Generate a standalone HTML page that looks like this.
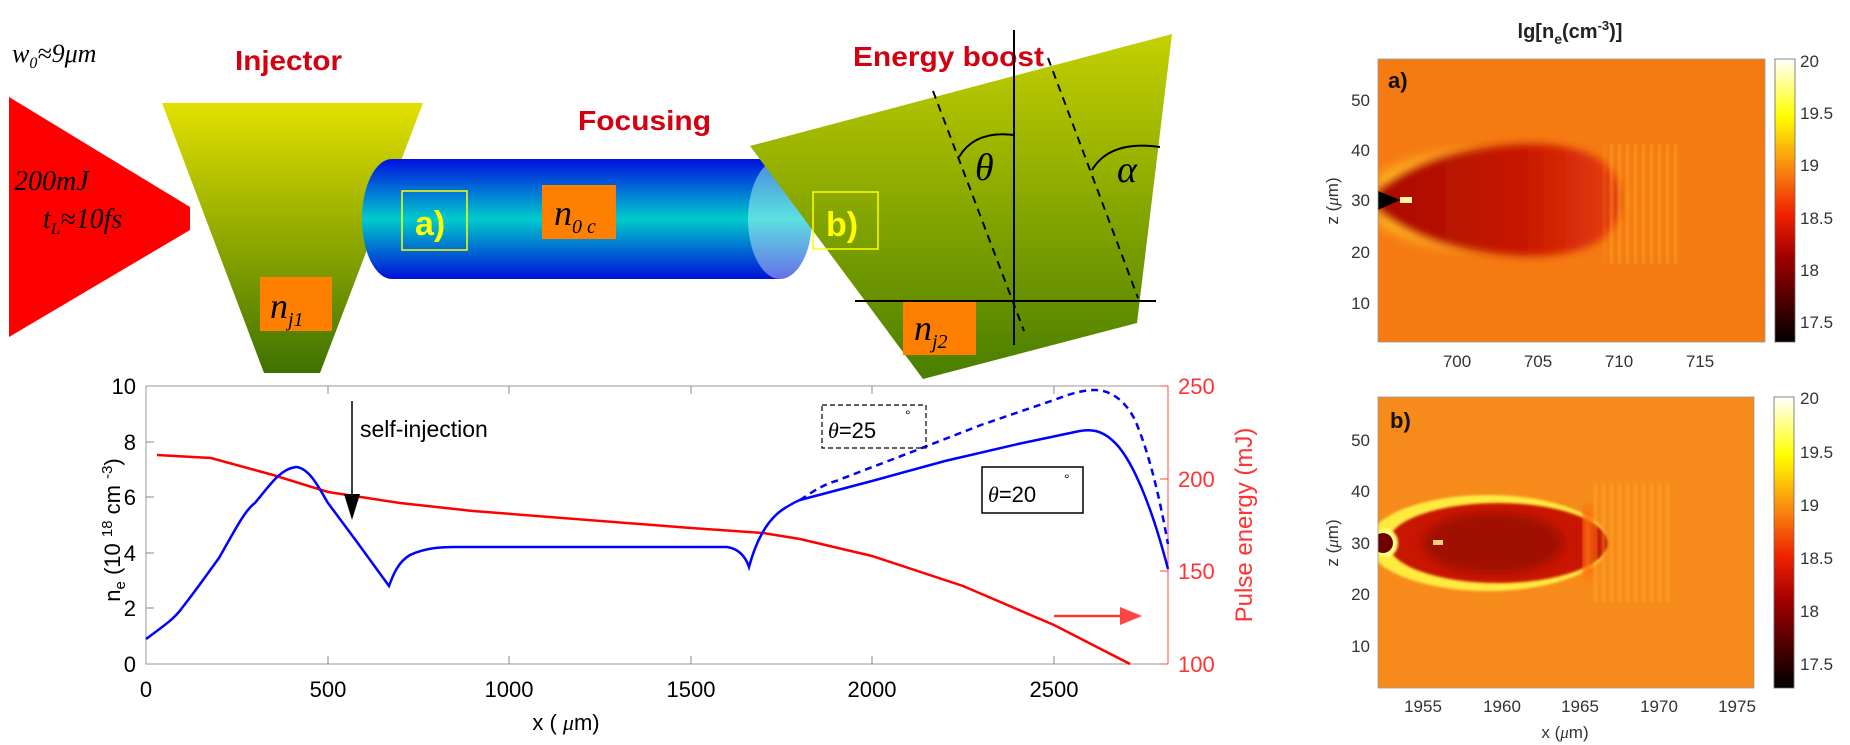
<!DOCTYPE html>
<html><head><meta charset="utf-8"><style>
html,body{margin:0;padding:0;background:#fff;}
svg{display:block;}
</style></head><body>
<svg width="1850" height="745" viewBox="0 0 1850 745" xmlns="http://www.w3.org/2000/svg" font-family="Liberation Sans, sans-serif">
<defs>
<linearGradient id="gInj" x1="0" y1="0" x2="0" y2="1"><stop offset="0" stop-color="#e2e000"/><stop offset="1" stop-color="#3e7200"/></linearGradient>
<linearGradient id="gBoost" x1="0" y1="0" x2="0" y2="1"><stop offset="0" stop-color="#c4d000"/><stop offset="1" stop-color="#4a7e00"/></linearGradient>
<linearGradient id="gCyl" x1="0" y1="0" x2="0" y2="1"><stop offset="0" stop-color="#0010e0"/><stop offset="0.5" stop-color="#00cccc"/><stop offset="1" stop-color="#0010d8"/></linearGradient>
<linearGradient id="gCap" x1="0" y1="0" x2="0" y2="1"><stop offset="0" stop-color="#4a88e0"/><stop offset="0.5" stop-color="#5ce0e0"/><stop offset="1" stop-color="#6670e8"/></linearGradient>
<linearGradient id="gCb" x1="0" y1="1" x2="0" y2="0"><stop offset="0" stop-color="#000"/><stop offset="0.3" stop-color="#a00000"/><stop offset="0.45" stop-color="#f02000"/><stop offset="0.6" stop-color="#f88010"/><stop offset="0.8" stop-color="#ffff00"/><stop offset="1" stop-color="#fff"/></linearGradient>
<linearGradient id="gBubA" x1="0" y1="0" x2="1" y2="0"><stop offset="0" stop-color="#a80c00"/><stop offset="0.6" stop-color="#c81800"/><stop offset="1" stop-color="#e84010"/></linearGradient>
<filter id="bl"><feGaussianBlur stdDeviation="4"/></filter>
<filter id="bl6"><feGaussianBlur stdDeviation="7"/></filter>
<filter id="bl2"><feGaussianBlur stdDeviation="1.2"/></filter>
<pattern id="str" width="8" height="200" patternUnits="userSpaceOnUse"><rect x="0" y="0" width="3" height="200" fill="#ffb030" opacity="0.7"/></pattern>
</defs>

<!-- top diagram -->
<text x="12" y="62" font-family="Liberation Serif, serif" font-style="italic" font-size="26">w<tspan font-size="16" dy="6">0</tspan><tspan dy="-6">≈9μm</tspan></text>
<polygon points="9,97 190,207 190,230 9,337" fill="#ff0000"/>
<text x="14" y="190" font-family="Liberation Serif, serif" font-style="italic" font-size="28">200mJ</text>
<text x="43" y="228" font-family="Liberation Serif, serif" font-style="italic" font-size="28">t<tspan font-size="17" dy="6">L</tspan><tspan dy="-6">≈10fs</tspan></text>

<polygon points="162,103 423,103 320,373 264,373" fill="url(#gInj)"/>
<text x="235" y="70" font-size="28" font-weight="bold" fill="#d40010" textLength="107" lengthAdjust="spacingAndGlyphs">Injector</text>
<rect x="260" y="277" width="72" height="54" fill="#ff8000"/>
<text x="270" y="318" font-family="Liberation Serif, serif" font-style="italic" font-size="36">n<tspan font-size="20" dy="8">j1</tspan></text>

<rect x="392" y="159" width="388" height="120" fill="url(#gCyl)"/>
<ellipse cx="392" cy="219" rx="30" ry="60" fill="url(#gCyl)"/>
<ellipse cx="780" cy="219" rx="32" ry="60" fill="url(#gCap)"/>
<rect x="402" y="191" width="65" height="59" fill="none" stroke="#ffff00" stroke-width="1.5"/>
<text x="415" y="235" font-size="34" font-weight="bold" fill="#ffff00">a)</text>
<rect x="542" y="185" width="74" height="54" fill="#ff8000"/>
<text x="554" y="225" font-family="Liberation Serif, serif" font-style="italic" font-size="36">n<tspan font-size="20" dy="8">0 c</tspan></text>
<text x="578" y="130" font-size="28" font-weight="bold" fill="#d40010" textLength="133" lengthAdjust="spacingAndGlyphs">Focusing</text>

<polygon points="750,146 1172,34 1137,323 923,379" fill="url(#gBoost)"/>
<text x="853" y="66" font-size="28" font-weight="bold" fill="#d40010" textLength="191" lengthAdjust="spacingAndGlyphs">Energy boost</text>
<rect x="813" y="192" width="65" height="57" fill="none" stroke="#ffff00" stroke-width="1.5"/>
<text x="826" y="236" font-size="34" font-weight="bold" fill="#ffff00">b)</text>
<rect x="903" y="302" width="73" height="53" fill="#ff8000"/>
<text x="914" y="340" font-family="Liberation Serif, serif" font-style="italic" font-size="36">n<tspan font-size="20" dy="8">j2</tspan></text>
<line x1="1014" y1="30" x2="1014" y2="345" stroke="#000" stroke-width="2"/>
<line x1="855" y1="301" x2="1156" y2="301" stroke="#000" stroke-width="2"/>
<line x1="933" y1="91" x2="1024" y2="331" stroke="#000" stroke-width="2" stroke-dasharray="8,6"/>
<line x1="1048" y1="58" x2="1138" y2="298" stroke="#000" stroke-width="2" stroke-dasharray="8,6"/>
<path d="M959,157 Q975,130 1014,135" fill="none" stroke="#000" stroke-width="2"/>
<path d="M1092,170 Q1110,140 1160,147" fill="none" stroke="#000" stroke-width="2"/>
<text x="975" y="180" font-family="Liberation Serif, serif" font-style="italic" font-size="38">θ</text>
<text x="1117" y="182" font-family="Liberation Serif, serif" font-style="italic" font-size="38">α</text>

<!-- bottom chart -->
<g stroke="#888" stroke-width="1" fill="none">
<rect x="146" y="386" width="1022" height="278" stroke="#999"/>
<path d="M328,664v-8M509,664v-8M691,664v-8M872,664v-8M1054,664v-8M328,386v8M509,386v8M691,386v8M872,386v8M1054,386v8"/>
<path d="M146,608h8M146,553h8M146,497h8M146,442h8"/>
</g>
<line x1="1168" y1="386" x2="1168" y2="664" stroke="#f44" stroke-width="1"/>
<path d="M1168,386h-8M1168,479h-8M1168,571h-8M1168,664h-8" stroke="#f44"/>
<g font-size="22" fill="#000" text-anchor="end">
<text x="136" y="394">10</text><text x="136" y="450">8</text><text x="136" y="505">6</text><text x="136" y="561">4</text><text x="136" y="616">2</text><text x="136" y="672">0</text>
</g>
<g font-size="22" fill="#000" text-anchor="middle">
<text x="146" y="697">0</text><text x="328" y="697">500</text><text x="509" y="697">1000</text><text x="691" y="697">1500</text><text x="872" y="697">2000</text><text x="1054" y="697">2500</text>
</g>
<text x="566" y="730" font-size="22" text-anchor="middle">x ( <tspan font-family="Liberation Serif, serif" font-style="italic">μ</tspan>m)</text>
<text transform="translate(120,530) rotate(-90)" font-size="22" text-anchor="middle">n<tspan font-size="15" dy="5">e</tspan><tspan dy="-5"> (10 </tspan><tspan font-size="15" dy="-8">18</tspan><tspan dy="8"> cm </tspan><tspan font-size="15" dy="-8">-3</tspan><tspan dy="8">)</tspan></text>
<g font-size="22" fill="#f33">
<text x="1178" y="394">250</text><text x="1178" y="487">200</text><text x="1178" y="579">150</text><text x="1178" y="672">100</text>
</g>
<text transform="translate(1252,525) rotate(-90)" font-size="24" fill="#f33" text-anchor="middle">Pulse energy (mJ)</text>

<path d="M157,455 L211,458 L273,475 L328,492 L400,503 L473,511 L691,528 L763,533 L800,539 L872,556 L963,586 L1054,625 L1130,664" fill="none" stroke="#f00" stroke-width="2.5"/>
<path d="M146,639 C165,625 175,618 182,608 C200,585 210,570 219,558 C235,530 245,510 255,503 C270,485 280,469 296,467 C310,468 320,490 328,503 L357,542 L389,586 C393,575 398,562 410,555 C425,548 440,547 455,547 L727,547 C740,549 746,558 749,567 C755,545 765,520 785,508 C795,502 797,501 800,500 L872,481 L945,461 L1018,444 L1075,432 C1092,428 1102,431 1112,440 C1130,455 1150,500 1168,569" fill="none" stroke="#0000ff" stroke-width="2.5"/>
<path d="M800,500 C815,490 825,484 836,481 L909,453 L981,425 L1054,400 C1075,392 1085,390 1095,390 C1110,390 1125,400 1135,420 C1150,455 1160,500 1168,544" fill="none" stroke="#0000ff" stroke-width="2.5" stroke-dasharray="7,5"/>

<line x1="352" y1="401" x2="352" y2="495" stroke="#000" stroke-width="1.5"/>
<polygon points="344,494 360,494 352,520" fill="#000"/>
<text x="360" y="437" font-size="23">self-injection</text>
<rect x="822" y="405" width="104" height="43" fill="none" stroke="#000" stroke-width="1.2" stroke-dasharray="5,3"/>
<text x="828" y="438" font-size="22"><tspan font-family="Liberation Serif, serif" font-style="italic">θ</tspan>=25</text>
<text x="905" y="420" font-size="14">°</text>
<rect x="982" y="467" width="101" height="46" fill="none" stroke="#000" stroke-width="1.5"/>
<text x="988" y="502" font-size="22"><tspan font-family="Liberation Serif, serif" font-style="italic">θ</tspan>=20</text>
<text x="1064" y="484" font-size="14">°</text>
<line x1="1054" y1="616" x2="1125" y2="616" stroke="#f33" stroke-width="2.5"/>
<polygon points="1120,607 1142,616 1120,625" fill="#f44"/>

<!-- heatmap a -->
<text x="1570" y="38" font-size="20" font-weight="bold" fill="#222" text-anchor="middle">lg[n<tspan font-size="14" dy="6">e</tspan><tspan dy="-6">(cm</tspan><tspan font-size="13" dy="-8">-3</tspan><tspan dy="8">)]</tspan></text>
<svg x="1378" y="59" width="387" height="283" overflow="hidden">
<rect width="387" height="283" fill="#f57a12"/>
<path d="M0,118 Q100,60 250,141 Q100,222 0,164 Z" fill="#ffc828" filter="url(#bl6)" opacity="0.9"/>
<path d="M0,132 Q60,85 160,85 Q240,88 245,141 Q240,194 160,197 Q60,197 0,150 Z" fill="url(#gBubA)" filter="url(#bl)"/>
<polygon points="0,132 22,141 0,151" fill="#000"/>
<rect x="22" y="138" width="12" height="6" fill="#fff2a0"/>
<rect x="226" y="85" width="76" height="120" fill="url(#str)" opacity="0.7" filter="url(#bl2)"/>
</svg>
<rect x="1378" y="59" width="387" height="283" fill="none" stroke="#999" stroke-width="0.8"/>
<rect x="1775" y="59" width="20" height="283" fill="url(#gCb)" stroke="#666" stroke-width="0.8"/>
<g font-size="17" fill="#333">
<text x="1800" y="67">20</text><text x="1800" y="119">19.5</text><text x="1800" y="171">19</text><text x="1800" y="224">18.5</text><text x="1800" y="276">18</text><text x="1800" y="328">17.5</text>
</g>
<g font-size="17" fill="#333" text-anchor="end">
<text x="1370" y="106">50</text><text x="1370" y="156">40</text><text x="1370" y="206">30</text><text x="1370" y="258">20</text><text x="1370" y="309">10</text>
</g>
<g font-size="17" fill="#333" text-anchor="middle">
<text x="1457" y="367">700</text><text x="1538" y="367">705</text><text x="1619" y="367">710</text><text x="1700" y="367">715</text>
</g>
<text transform="translate(1338,201) rotate(-90)" font-size="17" fill="#333" text-anchor="middle">z (<tspan font-family="Liberation Serif, serif" font-style="italic">μ</tspan>m)</text>
<text x="1388" y="88" font-size="22" font-weight="bold" fill="#111">a)</text>

<!-- heatmap b -->
<svg x="1378" y="397" width="376" height="291" overflow="hidden">
<rect width="376" height="291" fill="#f68a1a"/>
<ellipse cx="110" cy="146" rx="120" ry="48" fill="#ffea40" filter="url(#bl2)"/>
<ellipse cx="120" cy="146" rx="110" ry="40" fill="#c81800" filter="url(#bl2)"/>
<ellipse cx="115" cy="146" rx="70" ry="30" fill="#900800" filter="url(#bl)" opacity="0.7"/>
<rect x="205" y="110" width="10" height="70" fill="#ff7010" filter="url(#bl)"/>
<ellipse cx="8" cy="146" rx="12" ry="14" fill="#ffff80" filter="url(#bl2)"/>
<ellipse cx="5" cy="146" rx="10" ry="10" fill="#700000"/>
<rect x="55" y="143" width="10" height="5" fill="#ffd080"/>
<rect x="212" y="85" width="80" height="120" fill="url(#str)" opacity="0.7" filter="url(#bl2)"/>
</svg>
<rect x="1378" y="397" width="376" height="291" fill="none" stroke="#999" stroke-width="0.8"/>
<rect x="1774" y="397" width="20" height="291" fill="url(#gCb)" stroke="#666" stroke-width="0.8"/>
<g font-size="17" fill="#333">
<text x="1800" y="404">20</text><text x="1800" y="458">19.5</text><text x="1800" y="511">19</text><text x="1800" y="564">18.5</text><text x="1800" y="617">18</text><text x="1800" y="670">17.5</text>
</g>
<g font-size="17" fill="#333" text-anchor="end">
<text x="1370" y="446">50</text><text x="1370" y="497">40</text><text x="1370" y="549">30</text><text x="1370" y="600">20</text><text x="1370" y="652">10</text>
</g>
<g font-size="17" fill="#333" text-anchor="middle">
<text x="1423" y="712">1955</text><text x="1502" y="712">1960</text><text x="1580" y="712">1965</text><text x="1659" y="712">1970</text><text x="1737" y="712">1975</text>
</g>
<text x="1565" y="738" font-size="17" fill="#333" text-anchor="middle">x (<tspan font-family="Liberation Serif, serif" font-style="italic">μ</tspan>m)</text>
<text transform="translate(1338,543) rotate(-90)" font-size="17" fill="#333" text-anchor="middle">z (<tspan font-family="Liberation Serif, serif" font-style="italic">μ</tspan>m)</text>
<text x="1390" y="428" font-size="22" font-weight="bold" fill="#111">b)</text>
</svg>
</body></html>
